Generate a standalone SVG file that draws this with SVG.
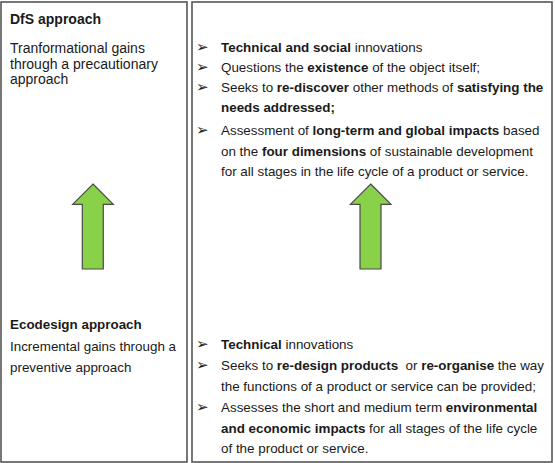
<svg xmlns="http://www.w3.org/2000/svg" width="555" height="463" viewBox="0 0 555 463">
<style>
.box{fill:#fff;stroke:#555;stroke-width:1.6}
text{font-family:"Liberation Sans",Arial,sans-serif;font-size:13.4px;fill:#1a1a1a}
.b{font-weight:bold}
.big{font-size:14px}
.bul{font-family:"DejaVu Sans",sans-serif;font-size:15px}
.arrow{fill:#88d148;stroke:#4a4a4a;stroke-width:1.2}
</style>
<rect width="555" height="463" fill="#fff"/>
<g id="left-box">
<rect class="box" x="1" y="2" width="186" height="460"/>
</g>
<g id="right-box">
<rect class="box" x="192" y="2" width="360" height="460"/>
</g>
<g id="dfs-approach">
<text x="10" y="24" class="b big">DfS approach</text>
<text x="10" y="53" class="big">Tranformational gains</text>
<text x="10" y="68.5" class="big">through a precautionary</text>
<text x="10" y="84" class="big">approach</text>
</g>
<g id="dfs-features">
<text class="bul" x="196" y="52">➢</text>
<text x="221" y="52"><tspan class="b">Technical and social</tspan> innovations</text>
<text class="bul" x="196" y="72">➢</text>
<text x="221" y="72">Questions the <tspan class="b">existence</tspan> of the object itself;</text>
<text class="bul" x="196" y="92">➢</text>
<text x="221" y="92">Seeks to <tspan class="b">re-discover</tspan> other methods of <tspan class="b">satisfying the</tspan></text>
<text x="221" y="112" class="b">needs addressed;</text>
<text class="bul" x="196" y="135">➢</text>
<text x="221" y="135">Assessment of <tspan class="b">long-term and global impacts</tspan> based</text>
<text x="221" y="156">on the <tspan class="b">four dimensions</tspan> of sustainable development</text>
<text x="221" y="176">for all stages in the life cycle of a product or service.</text>
</g>
<g id="ecodesign-approach">
<text x="10" y="329" class="b">Ecodesign approach</text>
<text x="10" y="351">Incremental gains through a</text>
<text x="10" y="371.5">preventive approach</text>
</g>
<g id="ecodesign-features">
<text class="bul" x="196" y="349">➢</text>
<text x="221" y="349"><tspan class="b">Technical</tspan> innovations</text>
<text class="bul" x="196" y="370">➢</text>
<text x="221" y="370">Seeks to <tspan class="b">re-design products</tspan>&#160; or <tspan class="b">re-organise</tspan> the way</text>
<text x="221" y="391">the functions of a product or service can be provided;</text>
<text class="bul" x="196" y="412">➢</text>
<text x="221" y="412">Assesses the short and medium term <tspan class="b">environmental</tspan></text>
<text x="221" y="432.5" class="b">and economic impacts <tspan style="font-weight:normal">for all stages of the life cycle</tspan></text>
<text x="221" y="453">of the product or service.</text>
</g>
<g id="connectors">
<polygon class="arrow" points="93,184 113.3,204.3 103.3,204.3 103.3,269 82.3,269 82.3,204.3 72.7,204.3"/>
<polygon class="arrow" points="370.7,184 391,204.3 381,204.3 381,269 360,269 360,204.3 350.4,204.3"/>
</g>
</svg>
